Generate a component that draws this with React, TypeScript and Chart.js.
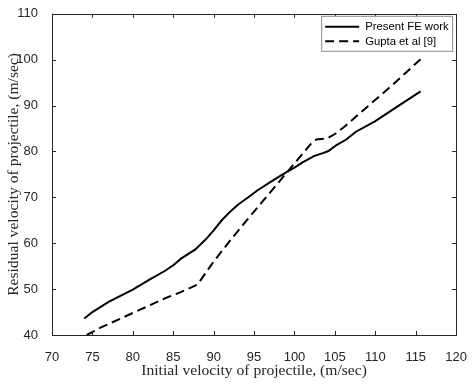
import React, { useEffect, useRef } from "react";
import { Chart, registerables } from "chart.js";

Chart.register(...registerables);

const presentX = [74, 75, 77, 80, 82, 84, 85, 86, 87.7, 89, 90, 91, 92, 93, 94.2, 95.4, 97, 99, 100, 101, 102.4, 103.6, 104.2, 105.2, 106.4, 107.6, 110, 112.9, 115.6];
const presentY = [43.6, 45, 47.2, 49.9, 52, 54, 55.2, 56.7, 58.6, 60.8, 62.8, 65, 66.8, 68.4, 69.9, 71.5, 73.3, 75.5, 76.5, 77.6, 79, 79.7, 80.1, 81.4, 82.6, 84.3, 86.6, 90, 93.1];

const guptaX = [74.3, 76, 80, 84, 86, 88, 90, 92, 94, 96, 98, 100, 102, 102.7, 104, 105, 106.4, 108, 112, 115.6];
const guptaY = [40, 41.6, 44.8, 48, 49.4, 51, 56, 60.5, 64.8, 69.0, 73.2, 77.4, 81.6, 82.6, 82.8, 83.8, 85.7, 88.2, 94.3, 100.1];

const seriesLabels = ["Present FE work", "Gupta et al [9]"];
const xTitle = "Initial velocity of projectile, (m/sec)";
const yTitle = "Residual velocity of projectile, (m/sec)";

const INK = "#262626";

const boxTicksPlugin = {
  id: "boxTicks",
  afterDatasetsDraw(chart: any) {
    const { ctx, chartArea } = chart;
    const { left, right, top, bottom } = chartArea;
    const xs = chart.scales.x;
    const ys = chart.scales.y;
    ctx.save();
    ctx.strokeStyle = INK;
    ctx.lineWidth = 1;
    ctx.beginPath();
    const tl = 4;
    xs.ticks.forEach((t: any) => {
      const px = Math.round(xs.getPixelForValue(t.value)) + 0.5;
      ctx.moveTo(px, bottom);
      ctx.lineTo(px, bottom - tl);
      ctx.moveTo(px, top);
      ctx.lineTo(px, top + tl);
    });
    ys.ticks.forEach((t: any) => {
      const py = Math.round(ys.getPixelForValue(t.value)) + 0.5;
      ctx.moveTo(left, py);
      ctx.lineTo(left + tl, py);
      ctx.moveTo(right, py);
      ctx.lineTo(right - tl, py);
    });
    ctx.stroke();
    ctx.strokeRect(Math.round(left) + 0.5, Math.round(top) + 0.5, Math.round(right - left), Math.round(bottom - top));
    ctx.restore();
  },
};

const boxLegendPlugin = {
  id: "boxLegend",
  afterDraw(chart: any) {
    const { ctx, chartArea } = chart;
    const datasets = chart.data.datasets;
    const boxRight = chartArea.right - 3.5;
    const boxTop = chartArea.top + 2.5;
    const boxW = 131;
    const rowH = 14.5;
    const boxH = 35;
    const boxLeft = boxRight - boxW;
    ctx.save();
    ctx.fillStyle = "#ffffff";
    ctx.fillRect(boxLeft, boxTop, boxW, boxH);
    ctx.strokeStyle = "#8c8c8c";
    ctx.lineWidth = 1;
    ctx.strokeRect(boxLeft, boxTop, boxW, boxH);
    ctx.font = "11.3px 'Liberation Sans', Arial, sans-serif";
    ctx.textBaseline = "middle";
    ctx.textAlign = "left";
    datasets.forEach((ds: any, i: number) => {
      const cy = boxTop + 10.5 + i * rowH;
      ctx.beginPath();
      ctx.setLineDash(ds.borderDash || []);
      ctx.strokeStyle = ds.borderColor;
      ctx.lineWidth = ds.borderWidth;
      ctx.moveTo(boxLeft + 3.5, cy);
      ctx.lineTo(boxLeft + 37.5, cy);
      ctx.stroke();
      ctx.setLineDash([]);
      ctx.fillStyle = "#000000";
      ctx.fillText(ds.label, boxLeft + 43.5, cy + 0.5);
    });
    ctx.restore();
  },
};

export default function App() {
  const ref = useRef<HTMLCanvasElement | null>(null);

  useEffect(() => {
    if (!ref.current) return;
    const chart = new Chart(ref.current, {
      type: "line",
      data: {
        datasets: [
          {
            label: seriesLabels[0],
            data: presentX.map((x, i) => ({ x, y: presentY[i] })),
            borderColor: "#000000",
            borderWidth: 2,
            pointRadius: 0,
            tension: 0,
            fill: false,
          },
          {
            label: seriesLabels[1],
            data: guptaX.map((x, i) => ({ x, y: guptaY[i] })),
            borderColor: "#000000",
            borderWidth: 2,
            borderDash: [9, 5],
            pointRadius: 0,
            tension: 0,
            fill: false,
          },
        ],
      },
      options: {
        animation: false,
        responsive: false,
        layout: { padding: { left: 0, right: 13, top: 13, bottom: 0 } },
        plugins: {
          legend: { display: false },
          tooltip: { enabled: false },
        },
        scales: {
          x: {
            type: "linear",
            min: 70,
            max: 120,
            grid: { display: false },
            border: { display: false },
            ticks: {
              stepSize: 5,
              color: INK,
              padding: 7,
              font: { family: "'Liberation Sans', Arial, sans-serif", size: 13 },
            },
            title: {
              display: true,
              text: xTitle,
              color: INK,
              padding: { top: 0, bottom: 8 },
              font: { family: "'Liberation Serif', 'Times New Roman', serif", size: 15.6, weight: "normal" },
            },
            afterFit: (s: any) => {
              s.height = 53;
            },
          },
          y: {
            type: "linear",
            min: 40,
            max: 110,
            grid: { display: false },
            border: { display: false },
            ticks: {
              stepSize: 10,
              color: INK,
              padding: 6,
              font: { family: "'Liberation Sans', Arial, sans-serif", size: 13 },
            },
            title: {
              display: true,
              text: yTitle,
              color: INK,
              padding: { top: 5, bottom: 0 },
              font: { family: "'Liberation Serif', 'Times New Roman', serif", size: 15.6, weight: "normal" },
            },
            afterFit: (s: any) => {
              s.width = 52;
            },
          },
        },
      },
      plugins: [boxTicksPlugin, boxLegendPlugin],
    });
    return () => chart.destroy();
  }, []);

  return (
    <div style={{ position: "fixed", left: 0, top: 0, width: 474, height: 388, background: "#ffffff" }}>
      <canvas ref={ref} width={474} height={388} style={{ display: "block" }} />
    </div>
  );
}
